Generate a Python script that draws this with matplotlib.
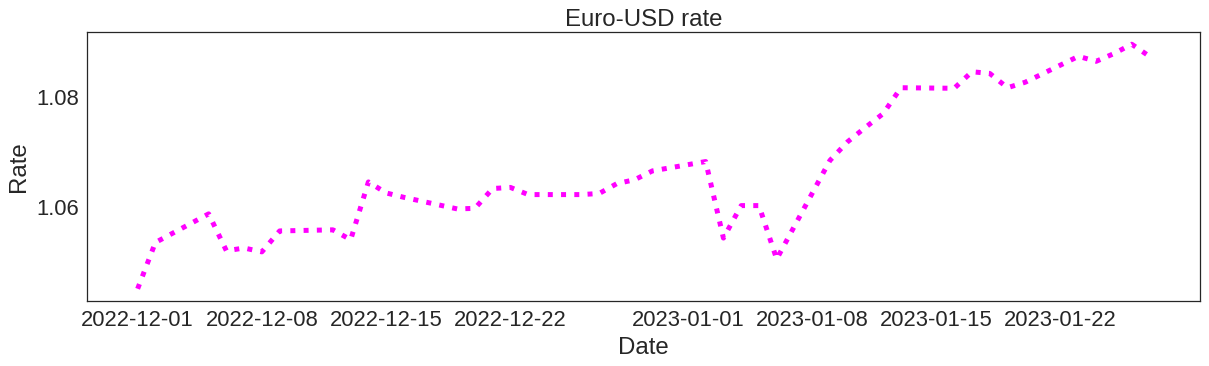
import pandas as pd
import matplotlib
matplotlib.use("Agg")
import matplotlib.pyplot as plt
import matplotlib.dates as mdates

# 每日欧元兑美元汇率
dates = ["2022-12-01", "2022-12-02", "2022-12-05", "2022-12-06", "2022-12-07",
         "2022-12-08", "2022-12-09", "2022-12-12", "2022-12-13", "2022-12-14",
         "2022-12-15", "2022-12-16", "2022-12-19", "2022-12-20", "2022-12-21",
         "2022-12-22", "2022-12-23", "2022-12-26", "2022-12-27", "2022-12-28",
         "2022-12-29", "2022-12-30", "2023-01-02", "2023-01-03", "2023-01-04",
         "2023-01-05", "2023-01-06", "2023-01-09", "2023-01-10", "2023-01-11",
         "2023-01-12", "2023-01-13", "2023-01-16", "2023-01-17", "2023-01-18",
         "2023-01-19", "2023-01-20", "2023-01-23", "2023-01-24", "2023-01-25",
         "2023-01-26", "2023-01-27"]
rates = [1.0451, 1.0535, 1.0587, 1.0520, 1.0525,
         1.0518, 1.0556, 1.0558, 1.0540, 1.0645,
         1.0625, 1.0617, 1.0596, 1.0597, 1.0633,
         1.0635, 1.0622, 1.0622, 1.0624, 1.0642,
         1.0649, 1.0665, 1.0682, 1.0543, 1.0602,
         1.0602, 1.0505, 1.0684, 1.0718, 1.0744,
         1.0769, 1.0816, 1.0815, 1.0845, 1.0842,
         1.0816, 1.0826, 1.0873, 1.0864, 1.0878,
         1.0895, 1.0873]
y_ticks = [1.06, 1.08]

dark = "#262626"
plt.rcParams["font.family"] = ["Liberation Sans", "DejaVu Sans"]
plt.rcParams["text.color"] = dark
plt.rcParams["axes.labelcolor"] = dark
plt.rcParams["xtick.color"] = dark
plt.rcParams["ytick.color"] = dark

fig = plt.figure(figsize=(1209 / 72, 366 / 72), dpi=72)
ax = fig.add_axes([0.072, 0.1776, 0.9206, 0.735])

x = pd.to_datetime(dates)
ax.plot(x, rates, color="magenta", linestyle=":", linewidth=5)

ax.xaxis.set_major_locator(mdates.DayLocator(bymonthday=[1, 8, 15, 22]))
ax.xaxis.set_major_formatter(mdates.DateFormatter("%Y-%m-%d"))
ax.set_yticks(y_ticks)
ax.tick_params(axis="x", labelsize=22, length=0, pad=9)
ax.tick_params(axis="y", labelsize=22, length=0, pad=8)

for s in ax.spines.values():
    s.set_color(dark)
    s.set_linewidth(1.25)

ax.set_title("Euro-USD rate", fontsize=24, pad=6)
ax.set_xlabel("Date", fontsize=24, labelpad=6)
ax.set_ylabel("Rate", fontsize=24, labelpad=6)

fig.savefig("out.png", dpi=72)
